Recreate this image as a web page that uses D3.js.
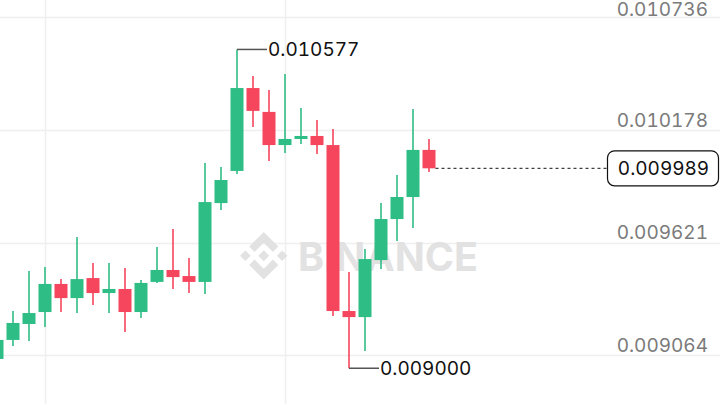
<!DOCTYPE html>
<html>
<head>
<meta charset="utf-8">
<script src="https://cdn.jsdelivr.net/npm/d3@7"></script>
<style>
  html, body { margin: 0; padding: 0; background: #fff; }
  svg { display: block; font-family: Inter, "Noto Sans", sans-serif; font-feature-settings: "tnum" 1; font-variant-numeric: tabular-nums; }
</style>
</head>
<body>
<div id="chart"></div>
<script>
// candle data (oldest -> newest)
var opens  = [0.009046, 0.009140, 0.009219, 0.009278, 0.009417, 0.009347, 0.009446, 0.009372, 0.009392, 0.009278,
              0.009427, 0.009486, 0.009456, 0.009427, 0.009817, 0.009976, 0.010386, 0.010268, 0.010104, 0.010134,
              0.010149, 0.010104, 0.009283, 0.009253, 0.009535, 0.009738, 0.009847, 0.010080];
var highs  = [0.009164, 0.009283, 0.009481, 0.009501, 0.009441, 0.009649, 0.009521, 0.009521, 0.009496, 0.009437,
              0.009600, 0.009689, 0.009545, 0.010015, 0.009996, 0.010577, 0.010446, 0.010376, 0.010456, 0.010287,
              0.010228, 0.010183, 0.009476, 0.009590, 0.009817, 0.009956, 0.010282, 0.010134];
var lows   = [0.009016, 0.009110, 0.009135, 0.009204, 0.009278, 0.009273, 0.009313, 0.009273, 0.009179, 0.009249,
              0.009422, 0.009392, 0.009372, 0.009367, 0.009783, 0.009961, 0.010193, 0.010025, 0.010065, 0.010109,
              0.010060, 0.009258, 0.009000, 0.009085, 0.009491, 0.009629, 0.009694, 0.009971];
var closes = [0.009140, 0.009224, 0.009273, 0.009417, 0.009347, 0.009441, 0.009372, 0.009392, 0.009278, 0.009422,
              0.009486, 0.009451, 0.009427, 0.009822, 0.009931, 0.010386, 0.010273, 0.010104, 0.010134, 0.010149,
              0.010104, 0.009283, 0.009253, 0.009540, 0.009738, 0.009847, 0.010080, 0.009989];

var yTicks = [0.010736, 0.010178, 0.009621, 0.009064];
var xGridIdx = [3, 18];
var lastPrice = 0.009989;

var W = 720, H = 404;
var up = "#2ebd85", down = "#f6465d";
var fs = 19;   // label font size

var candles = opens.map(function(o, i) {
    return {i: i, o: o, h: highs[i], l: lows[i], c: closes[i]};
});

var x = d3.scaleLinear().domain([0, 27]).range([-3, 429]);
var y = d3.scaleLinear().domain([0.009064, 0.010736]).range([355.3, 17.3]);
var bodyW = 13;
var fmt = d3.format(".6f");

var svg = d3.select("#chart").append("svg")
    .attr("width", W).attr("height", H);

svg.append("rect").attr("width", W).attr("height", H).attr("fill", "#fff");

// grid
svg.append("g").selectAll("line.h")
    .data(yTicks).enter().append("line")
    .attr("x1", 0).attr("x2", W)
    .attr("y1", d => Math.round(y(d)) + 0.5).attr("y2", d => Math.round(y(d)) + 0.5)
    .attr("stroke", "#efefef").attr("stroke-width", 1.5);

svg.append("g").selectAll("line.v")
    .data(xGridIdx).enter().append("line")
    .attr("y1", 0).attr("y2", H)
    .attr("x1", d => Math.round(x(d)) + 0.5).attr("x2", d => Math.round(x(d)) + 0.5)
    .attr("stroke", "#efefef").attr("stroke-width", 1.5);

// watermark
var wm = svg.append("g").attr("fill", "#e2e2e2");
wm.append("g").attr("transform", "translate(240,232) scale(0.375)")
    .selectAll("path")
    .data([
        "M38.73 53.2L63.31 28.63L87.9 53.22L102.2 38.92L63.31 0L24.43 38.88Z",
        "M0 63.31L14.3 49.01L28.6 63.31L14.3 77.61Z",
        "M38.73 73.41L63.31 97.99L87.9 73.4L102.2 87.69L63.31 126.61L24.43 87.72Z",
        "M98.01 63.31L112.31 49.01L126.61 63.31L112.31 77.61Z",
        "M77.83 63.3L63.31 48.78L48.8 63.28L63.31 77.8Z"
    ])
    .enter().append("path").attr("d", d => d);
wm.append("text")
    .attr("x", 298).attr("y", 271)
    .attr("font-size", 40).attr("font-weight", 700)
    .attr("textLength", 180).attr("lengthAdjust", "spacingAndGlyphs")
    .text("BINANCE");

// y labels
svg.append("g").selectAll("text")
    .data(yTicks).enter().append("text")
    .attr("x", 708).attr("y", d => Math.max(16, y(d) - 3.5))
    .attr("text-anchor", "end")
    .attr("font-size", fs)
    .attr("fill", "#7b7b7b")
    .text(d => fmt(d));

// candles
var g = svg.append("g");
var cg = g.selectAll("g.c").data(candles).enter().append("g");
cg.append("line")
    .attr("x1", d => x(d.i)).attr("x2", d => x(d.i))
    .attr("y1", d => y(d.h)).attr("y2", d => y(d.l))
    .attr("stroke", d => d.c >= d.o ? up : down)
    .attr("stroke-width", 1.6);
cg.append("rect")
    .attr("x", d => x(d.i) - bodyW / 2)
    .attr("width", bodyW)
    .attr("y", d => y(Math.max(d.o, d.c)))
    .attr("height", d => Math.max(2.5, Math.abs(y(d.o) - y(d.c))))
    .attr("fill", d => d.c >= d.o ? up : down);

// high / low markers
var hiC = candles.reduce((a, b) => b.h > a.h ? b : a);
var loC = candles.reduce((a, b) => b.l < a.l ? b : a);
[[hiC, hiC.h], [loC, loC.l]].forEach(function(m) {
    var cx = x(m[0].i), cy = y(m[1]);
    svg.append("line")
        .attr("x1", cx).attr("x2", cx + 30)
        .attr("y1", cy).attr("y2", cy)
        .attr("stroke", "#555").attr("stroke-width", 1.5);
    svg.append("text")
        .attr("x", cx + 31).attr("y", cy)
        .attr("dy", "0.36em")
        .attr("font-size", fs)
        .attr("fill", "#111")
        .text(fmt(m[1]));
});

// last price line + box
var ly = y(lastPrice);
svg.append("line")
    .attr("x1", x(27) + bodyW / 2).attr("x2", 607)
    .attr("y1", ly).attr("y2", ly)
    .attr("stroke", "#111").attr("stroke-width", 1)
    .attr("stroke-dasharray", "3,3");
svg.append("rect")
    .attr("x", 607.5).attr("y", ly - 17.5)
    .attr("width", 111).attr("height", 35)
    .attr("rx", 7)
    .attr("fill", "#fff").attr("stroke", "#111").attr("stroke-width", 1.2);
svg.append("text")
    .attr("x", 663.5).attr("y", ly)
    .attr("dy", "0.36em")
    .attr("text-anchor", "middle")
    .attr("font-size", fs)
    .attr("fill", "#111")
    .text(fmt(lastPrice));
</script>
</body>
</html>
